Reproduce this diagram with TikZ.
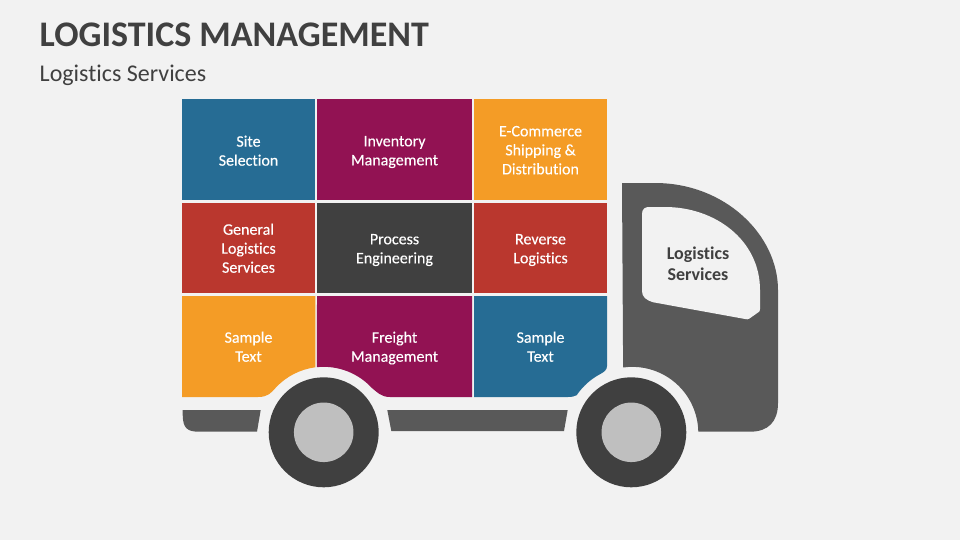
\documentclass[tikz,border=0pt]{standalone}
\usepackage{fontspec}
\setmainfont[Ligatures=NoCommon]{Carlito}
\newfontfamily\lblfont[Ligatures=NoCommon,FakeBold=0.25]{Carlito}
\definecolor{bgc}{HTML}{F2F2F2}
\definecolor{bluec}{HTML}{266C94}
\definecolor{purplec}{HTML}{921253}
\definecolor{orangec}{HTML}{F49C26}
\definecolor{redc}{HTML}{BA372E}
\definecolor{darkc}{HTML}{404040}
\definecolor{cabc}{HTML}{595959}
\definecolor{hubc}{HTML}{BFBFBF}
\tikzset{
  lbl/.style={text=white,align=center,inner sep=0pt,font=\lblfont\fontsize{16}{19}\selectfont,execute at begin node=\strut,execute at end node=\strut},
  tyre/.style={circle,fill=darkc,minimum size=110pt,inner sep=0pt},
  hub/.style={circle,fill=hubc,minimum size=59.5pt,inner sep=0pt},
}
\begin{document}
\begin{tikzpicture}[x=1pt,y=-1pt]
\useasboundingbox (0,0) rectangle (960,540);
\fill[bgc] (0,0) rectangle (960,540);
\node[anchor=west,inner sep=0pt,text=darkc,font=\fontsize{36}{40}\selectfont\bfseries] (title) at (39.5,35) {LOGISTICS MANAGEMENT};
\node[anchor=west,inner sep=0pt,text=darkc,font=\fontsize{24}{28}\selectfont] (sub) at (39.5,75) {Logistics Services};
% top rows
\fill[bluec] (182,99) rectangle (315,200);
\fill[purplec] (317,99) rectangle (472,200);
\fill[orangec] (474,99) rectangle (607,200);
\fill[redc] (182,203) rectangle (315,293);
\fill[darkc] (317,203) rectangle (472,293);
\fill[redc] (474,203) rectangle (607,293);
% bottom row
\fill[orangec] (182,296) -- (315.3,296) -- (315.3,367.3) arc[start angle=-97.4,end angle=-136.7,radius=65.5] .. controls (271,393) and (268,397) .. (258,397) -- (182,397) -- cycle;
\fill[purplec] (317,296) -- (472,296) -- (472,397) -- (390,397) .. controls (381,397) and (377,392) .. (371.9,388) arc[start angle=-42.6,end angle=-95.9,radius=65.5] -- cycle;
\fill[bluec] (474,296) -- (607,296) -- (607,366) .. controls (607,370) and (604,372) .. (600.5,373.9) arc[start angle=-117.8,end angle=-145.8,radius=66] .. controls (574,396.5) and (572,397) .. (568,397) -- (474,397) -- cycle;
% chassis
\fill[cabc] (182.7,410) -- (260.7,410) -- (257,431.7) -- (199,431.7) .. controls (187,431.7) and (183,428) .. (182.7,415) -- cycle;
\fill[cabc] (387.3,410) -- (567.7,410) -- (564,431) -- (391.3,431) -- cycle;
% cab
\fill[cabc] (622,183) -- (655,183) .. controls (725,183) and (778,235) .. (778,290) -- (778,403) .. controls (778,422) and (768,431.7) .. (750,431.7) -- (698.3,431.7) arc[start angle=-1,end angle=-98,radius=66] -- cycle;
% window
\fill[bgc] (642,214) .. controls (642,209) and (645,207) .. (649,207) -- (665,207) .. controls (715,207) and (760,240) .. (760,290) -- (760,309) .. controls (760,311) and (759.5,311.7) .. (758,312.5) -- (749.5,318.5) .. controls (748,319.5) and (747,319.5) .. (745,319) -- (653.3,302.3) .. controls (646,300) and (642,297) .. (642,291) -- cycle;
% wheels
\node[tyre] (w1) at (323.7,432.3) {};
\node[hub] (h1) at (323.7,432.3) {};
\node[tyre] (w2) at (631.3,432.3) {};
\node[hub] (h2) at (631.3,432.3) {};
% labels
\node[lbl] (a) at (248.5,153.5) {Site\\Selection};
\node[lbl] (b) at (394.5,153.5) {Inventory\\Management};
\node[lbl] (c) at (540.5,153) {E-Commerce\\Shipping \&\\Distribution};
\node[lbl] (d) at (248.5,251) {General\\Logistics\\Services};
\node[lbl] (e) at (394.5,251.5) {Process\\Engineering};
\node[lbl] (f) at (540.5,251.5) {Reverse\\Logistics};
\node[lbl] (g) at (248.5,349.5) {Sample\\Text};
\node[lbl] (h) at (394.5,349.5) {Freight\\Management};
\node[lbl] (i) at (540.5,349.5) {Sample\\Text};
\node[align=center,inner sep=0pt,text=darkc,font=\fontsize{18}{21}\selectfont\bfseries,execute at begin node=\strut,execute at end node=\strut] (j) at (698,267) {Logistics\\Services};
\end{tikzpicture}
\end{document}
